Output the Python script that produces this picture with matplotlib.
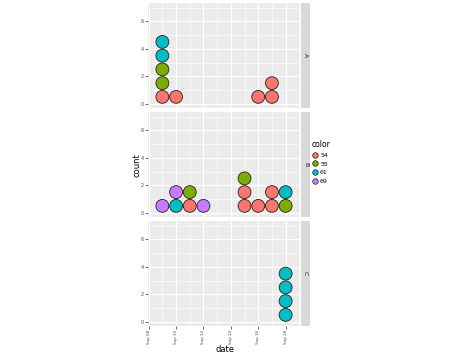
import numpy as np
import pandas as pd
import matplotlib
matplotlib.use('Agg')
import matplotlib.pyplot as plt
import matplotlib.dates as mdates
from matplotlib.lines import Line2D

# data: one row per dot, in stacking order (bottom first)
panel_a_dates = ['09', '09', '09', '09', '09', '10', '16', '17', '17']
panel_a_colors = [54, 55, 55, 61, 61, 54, 54, 54, 54]
panel_b_dates = ['09', '10', '10', '11', '11', '12', '15', '15', '15', '16', '17', '17', '18', '18']
panel_b_colors = [69, 61, 69, 54, 55, 69, 54, 54, 55, 54, 54, 54, 55, 61]
panel_c_dates = ['18', '18', '18', '18']
panel_c_colors = [61, 61, 61, 61]

panels = ['A', 'B', 'C']
color_levels = [54, 55, 61, 69]
tick_days = ['08', '10', '12', '14', '16', '18']

palette = {54: '#F8766D', 55: '#7CAE00', 61: '#00BFC4', 69: '#C77CFF'}

frames = []
for p, d, c in [('A', panel_a_dates, panel_a_colors),
                ('B', panel_b_dates, panel_b_colors),
                ('C', panel_c_dates, panel_c_colors)]:
    frames.append(pd.DataFrame({'panel': p, 'date': pd.to_datetime(['2015-09-' + x for x in d]), 'color': c}))
df = pd.concat(frames, ignore_index=True)
df['stack'] = df.groupby(['panel', 'date']).cumcount() + 0.5

W, H = 474, 355
fig = plt.figure(figsize=(W / 100, H / 100), dpi=100)

def box(x0, y0, x1, y1):
    return [x0 / W, 1 - y1 / H, (x1 - x0) / W, (y1 - y0) / H]

panel_y = [(3, 108), (112, 217), (221, 326)]
xmin = mdates.date2num(pd.Timestamp('2015-09-07 22:48'))
xmax = mdates.date2num(pd.Timestamp('2015-09-19 01:12'))
major_ticks = [mdates.date2num(pd.Timestamp('2015-09-' + t)) for t in tick_days]
minor_ticks = [mdates.date2num(pd.Timestamp('2015-09-' + t)) + 1 for t in tick_days]

for i, p in enumerate(panels):
    y0, y1 = panel_y[i]
    ax = fig.add_axes(box(148, y0, 300, y1))
    ax.set_facecolor('#EBEBEB')
    for s in ax.spines.values():
        s.set_visible(False)
    ax.set_xlim(xmin, xmax)
    ax.set_ylim(-0.31, 7.33)
    ax.set_xticks(major_ticks)
    ax.set_xticks(minor_ticks, minor=True)
    ax.set_yticks([0, 2, 4, 6])
    ax.set_yticks([1, 3, 5, 7], minor=True)
    ax.grid(which='major', color='white', lw=0.8)
    ax.grid(which='minor', color='white', lw=0.4)
    ax.set_axisbelow(True)
    ax.tick_params(which='major', length=2, width=0.5, color='#333333',
                   labelsize=3.6, labelcolor='#4D4D4D', pad=1)
    ax.tick_params(which='minor', length=0)
    ax.set_yticklabels(['0', '2', '4', '6'])
    if i < 2:
        ax.tick_params(axis='x', which='major', length=0, labelbottom=False)
    else:
        ax.set_xticklabels(['Sep ' + t for t in tick_days], rotation=90, fontsize=3.0)
    sub = df[df['panel'] == p]
    ax.scatter(mdates.date2num(sub['date']), sub['stack'], s=86,
               c=[palette[c] for c in sub['color']], edgecolors='#222222',
               linewidths=0.6, zorder=3, clip_on=False)
    sax = fig.add_axes(box(301, y0, 310, y1))
    sax.set_facecolor('#D9D9D9')
    sax.set_xticks([])
    sax.set_yticks([])
    for s in sax.spines.values():
        s.set_visible(False)
    sax.text(0.5, 0.5, p, rotation=-90, ha='center', va='center',
             fontsize=4.5, color='#1A1A1A', transform=sax.transAxes)

fig.text(137 / W, 1 - 165 / H, 'count', rotation=90, ha='center', va='center', fontsize=6)
fig.text(225 / W, 1 - 349 / H, 'date', ha='center', va='center', fontsize=6)

handles = [Line2D([], [], marker='o', ls='', markersize=4, markerfacecolor=palette[c],
                  markeredgecolor='#222222', markeredgewidth=0.5) for c in color_levels]
leg = fig.legend(handles, [str(c) for c in color_levels], title='color',
                 loc='upper left', bbox_to_anchor=(312 / W, 1 - 140 / H),
                 frameon=False, fontsize=4.5, title_fontsize=5.5,
                 handlelength=1.0, handletextpad=0.3, labelspacing=0.55,
                 borderpad=0, borderaxespad=0)
leg._legend_box.align = 'left'

fig.savefig('out.png', dpi=100)
